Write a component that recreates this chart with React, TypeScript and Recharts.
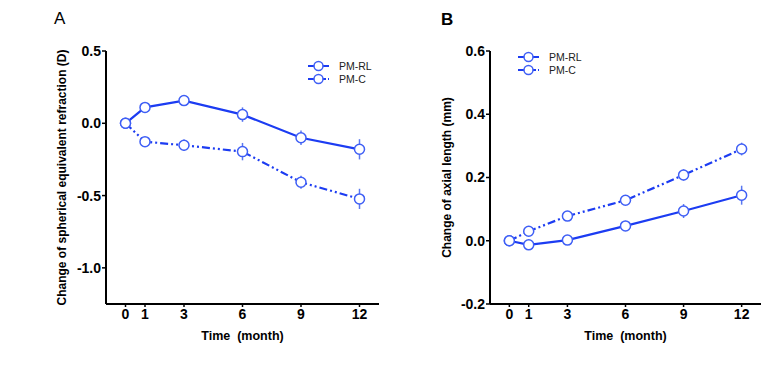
import { LineChart, Line, XAxis, YAxis, ErrorBar, Legend, Label } from 'recharts';

const months = [0, 1, 3, 6, 9, 12];
const monthTicks = [0, 1, 3, 6, 9, 12];

// panel A: spherical equivalent refraction (D)
const serRL = [0, 0.11, 0.157, 0.06, -0.1, -0.18];
const serRLErr = [0, 0.03, 0.035, 0.05, 0.05, 0.07];
const serC = [0, -0.127, -0.152, -0.196, -0.408, -0.523];
const serCErr = [0, 0.03, 0.04, 0.06, 0.045, 0.07];
const serTicks = [-1, -0.5, 0, 0.5];

// panel B: axial length (mm)
const alRL = [0, -0.013, 0.002, 0.047, 0.094, 0.144];
const alRLErr = [0, 0.008, 0.008, 0.016, 0.022, 0.03];
const alC = [0, 0.03, 0.078, 0.128, 0.208, 0.29];
const alCErr = [0, 0.006, 0.01, 0.012, 0.018, 0.02];
const alTicks = [-0.2, 0, 0.2, 0.4, 0.6];

const seriesNames = ['PM-RL', 'PM-C'];
const dashes = ['', '8 3 2 3 2 3'];

const LINE = '#1c3cf2';
const MARK = '#3f5ff5';
const ERR = '#5a78f0';
const FONT = '"Liberation Sans", Arial, sans-serif';

function buildRows(rl: number[], rlErr: number[], c: number[], cErr: number[]) {
  return months.map((m, i) => ({ month: m, rl: rl[i], rlErr: rlErr[i], c: c[i], cErr: cErr[i] }));
}

const dataA = buildRows(serRL, serRLErr, serC, serCErr);
const dataB = buildRows(alRL, alRLErr, alC, alCErr);

function LegendBox() {
  return (
    <div style={{ fontFamily: FONT }}>
      {seriesNames.map((name, i) => (
        <div key={name} style={{ display: 'flex', alignItems: 'center', height: 13.5 }}>
          <svg width={31} height={12}>
            <line x1={0} y1={6} x2={21} y2={6} stroke={LINE} strokeWidth={2} strokeDasharray={i === 1 ? '6 2 2 2' : undefined} />
            <circle cx={10.5} cy={6} r={4.5} fill="#fff" stroke={MARK} strokeWidth={1.5} />
          </svg>
          <span style={{ fontSize: 10.5, color: '#222' }}>{name}</span>
        </div>
      ))}
    </div>
  );
}

interface PanelProps {
  data: ReturnType<typeof buildRows>;
  yDomain: [number, number];
  yTicks: number[];
  yTitle: string;
  yAxisWidth: number;
  titleX: number;
  marginRight: number;
  legendPos: { left: number; top: number };
}

function Panel({ data, yDomain, yTicks, yTitle, yAxisWidth, titleX, marginRight, legendPos }: PanelProps) {
  return (
    <LineChart
      width={390}
      height={369}
      data={data}
      margin={{ top: 51, right: marginRight, bottom: 25, left: 0 }}
      style={{ fontFamily: FONT }}
    >
      <XAxis
        dataKey="month"
        type="number"
        domain={[-1, 13]}
        ticks={monthTicks}
        height={40}
        axisLine={{ stroke: '#000', strokeWidth: 2 }}
        tickLine={{ stroke: '#000', strokeWidth: 1.5 }}
        tickSize={3}
        tickMargin={2}
        tick={{ fontSize: 14, fontWeight: 'bold', fill: '#000' }}
      >
        <Label
          content={({ viewBox }: any) => (
            <text
              x={viewBox.x + viewBox.width / 2}
              y={viewBox.y + 36}
              textAnchor="middle"
              fontSize={12.5}
              fontWeight="bold"
              fill="#000"
              style={{ whiteSpace: 'pre' }}
            >
              Time  (month)
            </text>
          )}
        />
      </XAxis>
      <YAxis
        type="number"
        domain={yDomain}
        ticks={yTicks}
        width={yAxisWidth}
        allowDataOverflow
        axisLine={{ stroke: '#000', strokeWidth: 2 }}
        tickLine={{ stroke: '#000', strokeWidth: 1.5 }}
        tickSize={4}
        tickMargin={1}
        tickFormatter={(v: number) => v.toFixed(1)}
        tick={{ fontSize: 14, fontWeight: 'bold', fill: '#000' }}
      >
        <Label
          content={({ viewBox }: any) => {
            const cy = viewBox.y + viewBox.height / 2;
            return (
              <text
                x={titleX}
                y={cy}
                transform={`rotate(-90, ${titleX}, ${cy})`}
                textAnchor="middle"
                dominantBaseline="central"
                fontSize={12}
                fontWeight="bold"
                fill="#000"
              >
                {yTitle}
              </text>
            );
          }}
        />
      </YAxis>
      <Legend
        layout="vertical"
        align="center"
        verticalAlign="middle"
        content={() => <LegendBox />}
        wrapperStyle={{ left: legendPos.left, top: legendPos.top, width: 90, height: 30 }}
      />
      <Line
        dataKey="rl"
        name={seriesNames[0]}
        stroke={LINE}
        strokeWidth={2.2}
        dot={{ r: 5, fill: '#fff', stroke: MARK, strokeWidth: 1.5 }}
        isAnimationActive={false}
      >
        <ErrorBar dataKey="rlErr" width={0} stroke={ERR} strokeWidth={1.5} direction="y" />
      </Line>
      <Line
        dataKey="c"
        name={seriesNames[1]}
        stroke={LINE}
        strokeWidth={2.2}
        strokeDasharray={dashes[1]}
        dot={{ r: 5, fill: '#fff', stroke: MARK, strokeWidth: 1.5, strokeDasharray: '' }}
        isAnimationActive={false}
      >
        <ErrorBar dataKey="cErr" width={0} stroke={ERR} strokeWidth={1.5} direction="y" />
      </Line>
    </LineChart>
  );
}

export default function App() {
  return (
    <div style={{ position: 'absolute', left: 0, top: 0, width: 780, height: 369, background: '#fff', fontFamily: FONT }}>
      <div style={{ position: 'absolute', left: 0, top: 0 }}>
        <Panel
          data={dataA}
          yDomain={[-1.25, 0.5]}
          yTicks={serTicks}
          yTitle="Change of spherical equivalent refraction (D)"
          yAxisWidth={106}
          titleX={62}
          marginRight={11}
          legendPos={{ left: 308, top: 59 }}
        />
      </div>
      <div style={{ position: 'absolute', left: 390, top: 0 }}>
        <Panel
          data={dataB}
          yDomain={[-0.2, 0.6]}
          yTicks={alTicks}
          yTitle="Change of axial length (mm)"
          yAxisWidth={100}
          titleX={57}
          marginRight={19}
          legendPos={{ left: 128, top: 50 }}
        />
      </div>
      <div style={{ position: 'absolute', left: 54, top: 9, fontSize: 17, lineHeight: '20px', color: '#000' }}>A</div>
      <div style={{ position: 'absolute', left: 441, top: 10, fontSize: 17, fontWeight: 'bold', lineHeight: '20px', color: '#000' }}>B</div>
    </div>
  );
}
